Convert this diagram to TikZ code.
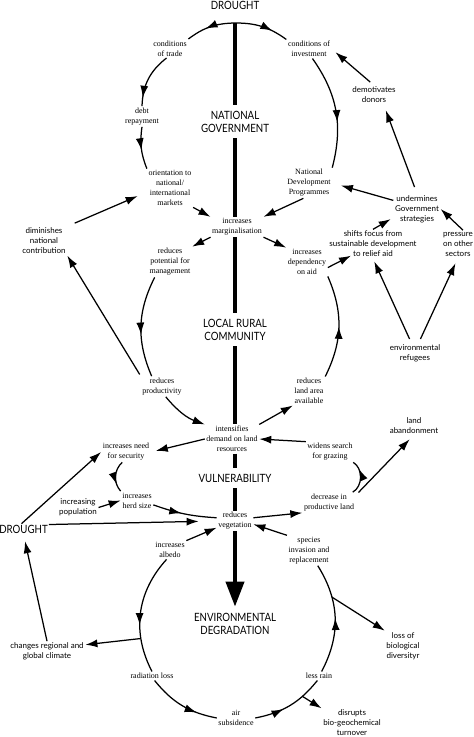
\documentclass[tikz,border=0pt]{standalone}
\usepackage{fontspec}
\setmainfont{Liberation Serif}
\newfontfamily\labelsans{Lato}
\newfontfamily\headsans[FakeStretch=0.85]{Lato}
\usetikzlibrary{arrows.meta,decorations.markings}

\begin{document}
\begin{tikzpicture}[
  x=1pt,y=-1pt,
  >={Latex[length=12pt,width=8pt]},
  conn/.style={->,line width=1.25pt},
  ring/.style={line width=1.25pt},
  midtip/.style={postaction={decorate},decoration={markings,
      mark=at position #1 with {\arrow{Latex[length=12pt,width=8pt]}}}},
  spine/.style={line width=4pt},
  txt/.style={font=\fontsize{8}{10}\selectfont,align=center,inner sep=1.5pt},
  stxt/.style={font=\labelsans\fontsize{8}{10}\selectfont,align=center,inner sep=1.5pt},
  head/.style={font=\headsans\fontsize{11.4}{13}\selectfont,align=center,inner sep=6pt}
]
\useasboundingbox (0,0) rectangle (474,737);

% --- central axis
\node[head] (dtop) at (235,5) {DROUGHT};
\coordinate (hub) at (235,23);
\node[head] (natgov) at (235,121.5) {NATIONAL\\GOVERNMENT};
\node[txt] (marg) at (237,227) {increases\\marginalisation};
\node[head] (local) at (235,329.5) {LOCAL RURAL\\COMMUNITY};
\node[txt] (demand) at (232,439) {intensifies\\demand on land\\resources};
\node[head] (vulner) at (235,478) {VULNERABILITY};
\node[txt] (veget) at (235,521) {reduces\\vegetation};
\node[head] (envdeg) at (235,623.5) {ENVIRONMENTAL\\DEGRADATION};

\draw[spine] (hub) -- (hub |- natgov.north);
\draw[spine] (hub |- natgov.south) -- (hub |- marg.north);
\draw[spine] (hub |- marg.south) -- (hub |- local.north);
\draw[spine] (hub |- local.south) -- (hub |- demand.north);
\draw[spine] (hub |- demand.south) -- (hub |- vulner.north);
\draw[spine] (hub |- vulner.south) -- (hub |- veget.north);
\draw[spine,-{Triangle[length=25pt,width=18pt]}] (hub |- veget.south) -- (hub |- envdeg.north);

% --- national level
\node[txt] (trade) at (170,48.5) {conditions\\of trade};
\node[txt] (debt) at (142,116.5) {debt\\repayment};
\node[txt] (orient) at (170,188) {orientation to\\national/\\international\\markets};
\node[txt] (invest) at (309,49) {conditions of\\investment};
\node[txt] (ndp) at (309,183) {National\\Development\\Programmes};
\node[stxt] (donors) at (374,95) {demotivates\\donors};
\node[stxt] (diminish) at (44,241) {diminishes\\national\\contribution};
\node[stxt] (undermine) at (417,209) {undermines\\Government\\strategies};
\node[stxt] (shifts) at (373,244) {shifts focus from\\sustainable development\\to relief aid};
\node[stxt] (pressure) at (458,244) {pressure\\on other\\sectors};
\node[stxt] (refugees) at (415,353) {environmental\\refugees};

\draw[ring,midtip=0.6] (hub) to[bend right=18] (trade.north east);
\draw[ring,midtip=0.7] (hub) to[bend left=18] (invest.north west);
\draw[ring,midtip=0.85] (trade.250) to[bend right=25] (debt.north);
\draw[ring,midtip=0.55] (debt.south) to[bend right=15] (orient.north west);
\draw[ring,midtip=0.6] (invest.-70) to[bend left=25] (ndp.north east);
\draw[conn] (orient.south east) -- (marg.north west);
\draw[conn] (ndp.250) -- (marg.north east);
\draw[conn,shorten >=9pt] (undermine.160) -- (ndp.east);
\draw[conn,shorten <=7pt,shorten >=6pt] (undermine.north) -- (donors.-45);
\draw[conn,shorten <=5pt,shorten >=5pt] (donors.north) -- (invest.east);
\draw[conn,shorten >=3pt] (shifts.north) -- (undermine.200);
\draw[conn] (pressure.70) -- (undermine.east);
\draw[conn,shorten <=4pt,shorten >=3pt] (refugees.110) -- (shifts.south);
\draw[conn,shorten <=4pt,shorten >=6pt] (refugees.70) -- (pressure.south);
\draw[conn,shorten <=8pt,shorten >=10pt] (diminish.north east) -- (orient.-170);

% --- local rural community
\node[txt] (potential) at (170,262) {reduces\\potential for\\management};
\node[txt] (depend) at (307,262) {increases\\dependency\\on aid};
\node[txt] (product) at (162,386.5) {reduces\\productivity};
\node[txt] (landarea) at (309,391) {reduces\\land area\\available};

\draw[conn] (marg.south west) -- (potential.north east);
\draw[conn] (marg.south east) -- (depend.north west);
\draw[conn] (depend.-15) -- ([xshift=-22pt,yshift=3pt]shifts.south);
\draw[ring,midtip=0.58] (potential.225) to[bend right=25] (product.135);
\draw[ring,midtip=0.5] (landarea.north east) to[bend right=25] (depend.south east);
\draw[conn,shorten <=2pt] (product.north west) -- (diminish.south east);
\draw[conn] (product.-70) to[bend right=15] (demand.north west);
\draw[conn] (demand.north east) -- (landarea.south west);

% --- vulnerability
\node[txt] (security) at (126,452) {increases need\\for security};
\node[txt] (grazing) at (330,452) {widens search\\for grazing};
\node[txt] (herd) at (137,500.5) {increases\\herd size};
\node[stxt] (population) at (78,507.5) {increasing\\population};
\node[txt] (declin) at (329,502.5) {decrease in\\productive land};
\node[stxt] (abandon) at (414,426) {land\\abandonment};
\node[head,inner sep=1pt] (dleft) at (23.5,529) {DROUGHT};
\node[txt] (species) at (309,550.5) {species\\invasion and\\replacement};
\node[txt] (albedo) at (170,550) {increases\\albedo};

\draw[conn] (grazing.north west) -- (demand.east);
\draw[conn,shorten >=5pt] (demand.west) -- (security.east);
\draw[ring,midtip=0.75] (security.250) to[bend right=45] (herd.north west);
\draw[conn] (population.east) -- (herd.west);
\draw[ring,midtip=0.45] (herd.-15) to[bend right=8] (veget.170);
\draw[conn] (dleft.110) -- (security.west);
\draw[conn,shorten >=18pt] (dleft.10) -- (veget.west);
\draw[conn] (albedo.north east) -- (veget.200);
\draw[conn] (veget.10) -- (declin.south west);
\draw[conn] (species.north west) -- (veget.-10);
\draw[ring,midtip=0.75] ([xshift=-3pt]declin.north east) to[bend right=60] ([xshift=-1pt]grazing.south east);
\draw[conn,shorten <=4pt,shorten >=5pt] (declin.15) -- (abandon.-95);

% --- environmental degradation
\node[stxt] (climate) at (47,651.5) {changes regional and\\global climate};
\node[txt] (radiat) at (152,676) {radiation loss};
\node[txt] (air) at (236,718) {air\\subsidence};
\node[txt] (rain) at (319,676) {less rain};
\node[stxt] (diversity) at (403,646) {loss of\\biological\\diversityr};
\node[stxt] (disrupt) at (352,723) {disrupts\\bio-geochemical\\turnover};

\draw[conn,shorten >=7pt] (climate.north) -- (dleft.south);
\draw[ring,midtip=0.6] (albedo.250) to[bend right=35] coordinate[pos=0.72] (climbr) (radiat.north);
\draw[conn] (climbr) -- (climate.10);
\draw[ring,midtip=0.72] (radiat.-60) to[bend right=20] (air.west);
\draw[ring,midtip=0.4] (air.east) to[bend right=20] coordinate[pos=0.72] (disbr) (rain.250);
\draw[conn] (disbr) -- (disrupt.north west);
\draw[ring,midtip=0.5] (rain.60) to[bend right=30] coordinate[pos=0.7] (divbr) (species.-60);
\draw[conn] (divbr) -- (diversity.north west);

\end{tikzpicture}
\end{document}
